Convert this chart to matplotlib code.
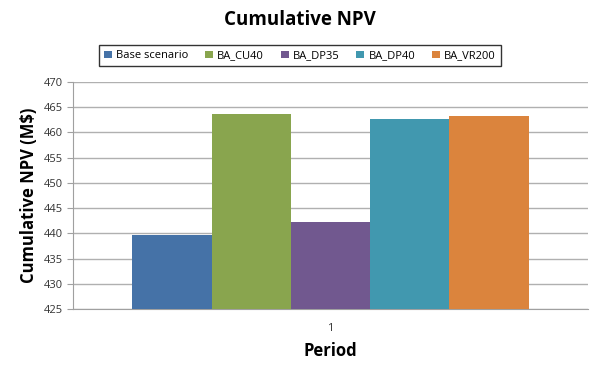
import matplotlib
matplotlib.use("Agg")
import matplotlib.pyplot as plt
from matplotlib.patches import Patch
import numpy as np

plt.rcParams['font.family'] = ['Open Sans', 'DejaVu Sans']

categories = ["1"]
series_names = ["Base scenario", "BA_CU40", "BA_DP35", "BA_DP40", "BA_VR200"]
values = [439.7, 463.6, 442.3, 462.7, 463.2]
colors = ["#4572A7", "#89A54E", "#71588F", "#4198AF", "#DB843D"]

fig = plt.figure(figsize=(6, 3.72), dpi=100)
ax = fig.add_axes([0.1217, 0.1694, 0.98 - 0.1217, 0.7796 - 0.1694])

n = len(series_names)
group_w = 0.77
bw = group_w / n
x0 = np.arange(len(categories))
for i, (name, v, c) in enumerate(zip(series_names, values, colors)):
    xs = x0 - group_w / 2 + bw * (i + 0.5)
    ax.bar(xs, [v - 425], bottom=425, width=bw, color=c, label=name, zorder=3,
           edgecolor='none')

ax.set_xlim(-0.5, 0.5)
ax.set_ylim(425, 470)
ax.set_yticks(np.arange(425, 471, 5))
ax.set_xticks(x0)
ax.set_xticklabels(categories)
ax.yaxis.grid(True, color='#B0B0B0', linewidth=1.0, zorder=0)
for s in ['top', 'right']:
    ax.spines[s].set_visible(False)
ax.spines['left'].set_color('#A0A0A0')
ax.spines['bottom'].set_color('#A0A0A0')
ax.tick_params(axis='y', colors='#A0A0A0', labelcolor='#333333', labelsize=8, length=4)
ax.tick_params(axis='x', length=0, labelcolor='#333333', labelsize=8, pad=10)

ax.set_ylabel("Cumulative NPV (M$)", fontsize=12, fontweight='bold', labelpad=4)
ax.set_xlabel("Period", fontsize=12, fontweight='bold', labelpad=6)
fig.text(0.5, 0.945, "Cumulative NPV", ha='center', va='center', fontsize=13.5, fontweight='bold')

handles = [Patch(facecolor=c, edgecolor='none') for c in colors]
leg = fig.legend(handles, series_names, loc='center', bbox_to_anchor=(0.5, 0.85), ncol=5,
                 fontsize=8, frameon=True, fancybox=False, handlelength=0.7, handleheight=0.7,
                 handletextpad=0.4, columnspacing=1.5, borderpad=0.45)
leg.get_frame().set_edgecolor('#000000')
leg.get_frame().set_linewidth(1.0)

fig.savefig("out.png", dpi=100)
